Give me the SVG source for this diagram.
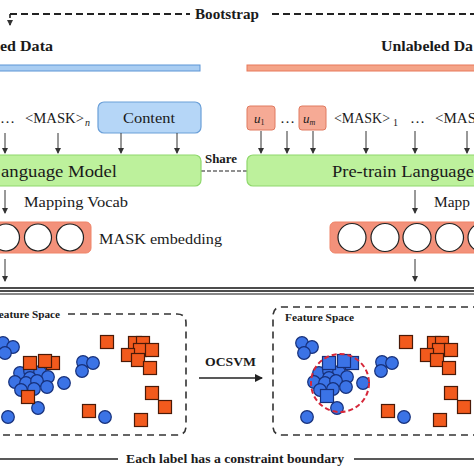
<svg xmlns="http://www.w3.org/2000/svg" xmlns:xlink="http://www.w3.org/1999/xlink" width="474" height="474" viewBox="0 0 474 474">
<style>
text{font-family:"Liberation Serif","DejaVu Serif",serif;fill:#1a1a1a}
.b{font-weight:bold}
.tok{font-size:15px}
.arr{stroke:#333;stroke-width:1;fill:none;marker-end:url(#ah)}
.green{fill:#bdf19c;stroke:#8fd86c;stroke-width:1.2}
.emb{fill:#f3917a;stroke:#ef8468;stroke-width:1}
.cir{fill:#fff;stroke:#222;stroke-width:1.2}
.bd{fill:#3b73e6;stroke:#16307a;stroke-width:1.2}
.os{fill:#f25a1d;stroke:#4a1a08;stroke-width:1.2}
.fb{fill:none;stroke:#333;stroke-width:1.6;stroke-dasharray:7 5}
.utok{fill:#f6aa95;stroke:#e07a60;stroke-width:1}
</style>
<defs>
<marker id="ah" viewBox="0 0 6 6" refX="5" refY="3" markerWidth="6" markerHeight="6" markerUnits="userSpaceOnUse" orient="auto"><path d="M0,0 L6,3 L0,6 z" fill="#333"/></marker>
<marker id="ah2" viewBox="0 0 8 8" refX="7" refY="4" markerWidth="8" markerHeight="8" markerUnits="userSpaceOnUse" orient="auto"><path d="M0,0 L8,4 L0,8 z" fill="#222"/></marker>
<g id="common">
<circle class="bd" cx="3" cy="343" r="6.3"/><circle class="bd" cx="13" cy="347" r="6.3"/><circle class="bd" cx="5" cy="353" r="6.3"/>
<circle class="bd" cx="83" cy="362" r="6.3"/><circle class="bd" cx="93" cy="363" r="6.3"/><circle class="bd" cx="82" cy="371" r="6.3"/>
<circle class="bd" cx="20" cy="373" r="6.3"/><circle class="bd" cx="30" cy="371" r="6.3"/><circle class="bd" cx="40" cy="372" r="6.3"/><circle class="bd" cx="48" cy="377" r="6.3"/>
<circle class="bd" cx="15" cy="382" r="6.3"/><circle class="bd" cx="30" cy="378" r="6.3"/><circle class="bd" cx="26" cy="383" r="6.3"/><circle class="bd" cx="37" cy="381" r="6.3"/>
<circle class="bd" cx="47" cy="387" r="6.3"/><circle class="bd" cx="21" cy="390" r="6.3"/><circle class="bd" cx="34" cy="389" r="6.3"/>
<circle class="bd" cx="64" cy="383" r="6.3"/><circle class="bd" cx="38" cy="408" r="6.3"/><circle class="bd" cx="8" cy="417" r="6.3"/><circle class="bd" cx="105" cy="417" r="6.3"/>
<rect class="os" x="100.5" y="335.5" width="13" height="13"/>
<rect class="os" x="128.5" y="336.5" width="13" height="13"/><rect class="os" x="136.5" y="336.5" width="13" height="13"/>
<rect class="os" x="133.5" y="343.5" width="13" height="13"/><rect class="os" x="145.5" y="343.5" width="13" height="13"/>
<rect class="os" x="121.5" y="348.5" width="13" height="13"/><rect class="os" x="131.5" y="353.5" width="13" height="13"/>
<rect class="os" x="143.5" y="361.5" width="13" height="13"/><rect class="os" x="145.5" y="386.5" width="13" height="13"/>
<rect class="os" x="158.5" y="400.5" width="13" height="13"/><rect class="os" x="134.5" y="413.5" width="13" height="13"/>
<rect class="os" x="82.5" y="404.5" width="13" height="13"/>
</g>
</defs>

<g id="bootstrap">
<path d="M10,14 H190 M272,14 H480" stroke="#222" stroke-width="2" stroke-dasharray="7 4" fill="none"/>
<path d="M10,14 V25" stroke="#222" stroke-width="1.6" stroke-dasharray="4 3" fill="none" marker-end="url(#ah)"/>
<text class="b" x="195" y="19" font-size="14" textLength="64" lengthAdjust="spacingAndGlyphs">Bootstrap</text>
</g>

<g id="labeled-data">
<text class="b" x="0" y="51" font-size="15" textLength="53" lengthAdjust="spacingAndGlyphs">ed Data</text>
<rect x="-5" y="65" width="205" height="6" fill="#a9cdf2" stroke="#5d95d5" stroke-width="1"/>
</g>
<g id="unlabeled-data">
<text class="b" x="381" y="51" font-size="15" textLength="92" lengthAdjust="spacingAndGlyphs">Unlabeled Da</text>
<rect x="247" y="65" width="240" height="6" fill="#f4a488" stroke="#e8785a" stroke-width="1"/>
</g>

<g id="left-tokens">
<text class="tok" x="0" y="123">…</text>
<text class="tok" x="25" y="123" textLength="59" lengthAdjust="spacingAndGlyphs">&lt;MASK&gt;</text>
<text x="85" y="126" font-size="10" font-style="italic">n</text>
</g>
<g id="content">
<rect x="98" y="102" width="103" height="31" rx="6" fill="#b5d6f7" stroke="#6a9fd8" stroke-width="1.2"/>
<text x="123" y="123" font-size="15" textLength="52" lengthAdjust="spacingAndGlyphs">Content</text>
</g>

<g id="right-tokens">
<rect class="utok" x="247" y="106" width="28" height="24" rx="3"/>
<text x="254" y="123" font-size="13" font-style="italic">u<tspan font-size="8" font-style="normal" dy="2">1</tspan></text>
<text class="tok" x="280" y="123">…</text>
<rect class="utok" x="299" y="106" width="27" height="24" rx="3"/>
<text x="303" y="123" font-size="13" font-style="italic">u<tspan font-size="8" dy="2">m</tspan></text>
<text class="tok" x="334" y="123" textLength="56" lengthAdjust="spacingAndGlyphs">&lt;MASK&gt;</text>
<text x="393" y="126" font-size="10">1</text>
<text class="tok" x="410" y="123">…</text>
<text class="tok" x="435" y="123">&lt;MAS</text>
</g>

<g id="connectors">
<line class="arr" x1="5" y1="133" x2="5" y2="153"/>
<line class="arr" x1="58" y1="133" x2="58" y2="153"/>
<line class="arr" x1="121" y1="133" x2="121" y2="153"/>
<line class="arr" x1="177" y1="133" x2="177" y2="153"/>
<line class="arr" x1="261" y1="131" x2="261" y2="153"/>
<line class="arr" x1="287" y1="131" x2="287" y2="153"/>
<line class="arr" x1="313" y1="131" x2="313" y2="153"/>
<line class="arr" x1="366" y1="131" x2="366" y2="153"/>
<line class="arr" x1="415" y1="131" x2="415" y2="153"/>
<line class="arr" x1="467" y1="131" x2="467" y2="153"/>
<line class="arr" x1="5" y1="190" x2="5" y2="213"/>
<line class="arr" x1="415" y1="190" x2="415" y2="213"/>
<line class="arr" x1="5" y1="259" x2="5" y2="281"/>
<line class="arr" x1="415" y1="259" x2="415" y2="281"/>
<line x1="201" y1="171" x2="247" y2="171" stroke="#222" stroke-width="1.2" stroke-dasharray="4 2"/>
<line x1="199" y1="378" x2="262" y2="378" stroke="#222" stroke-width="1.3" marker-end="url(#ah2)"/>
</g>

<g id="left-lm">
<rect class="green" x="-10" y="155" width="211" height="31" rx="6"/>
<text x="1" y="177" font-size="17" textLength="116" lengthAdjust="spacingAndGlyphs">anguage Model</text>
</g>
<text class="b" x="205" y="163" font-size="13" textLength="32" lengthAdjust="spacingAndGlyphs">Share</text>
<g id="right-lm">
<rect class="green" x="247" y="155" width="240" height="31" rx="6"/>
<text x="332" y="177" font-size="17" textLength="142" lengthAdjust="spacingAndGlyphs">Pre-train Language</text>
</g>

<text x="24" y="207" font-size="14" textLength="104" lengthAdjust="spacingAndGlyphs">Mapping Vocab</text>
<text x="434" y="207" font-size="14" textLength="36" lengthAdjust="spacingAndGlyphs">Mapp</text>

<g id="left-emb">
<rect class="emb" x="-10" y="222" width="101" height="31" rx="5"/>
<circle class="cir" cx="6" cy="237.5" r="13.5"/>
<circle class="cir" cx="38" cy="237.5" r="13.5"/>
<circle class="cir" cx="70" cy="237.5" r="13.5"/>
</g>
<text x="99" y="244" font-size="15" textLength="123" lengthAdjust="spacingAndGlyphs">MASK embedding</text>
<g id="right-emb">
<rect class="emb" x="330" y="222" width="160" height="31" rx="5"/>
<circle class="cir" cx="352" cy="237.5" r="14"/>
<circle class="cir" cx="385" cy="237.5" r="14"/>
<circle class="cir" cx="417" cy="237.5" r="14"/>
<circle class="cir" cx="449.5" cy="237.5" r="14"/>
<circle class="cir" cx="482" cy="237.5" r="14"/>
</g>

<g id="separator" stroke="#111">
<line x1="0" y1="288" x2="474" y2="288" stroke-width="1.3"/>
<line x1="0" y1="291" x2="474" y2="291" stroke-width="1.3"/>
<line x1="0" y1="294" x2="474" y2="294" stroke-width="1"/>
</g>

<g id="left-feature">
<path class="fb" d="M68,314 H177 Q186,314 186,323 V426 Q186,435 177,435 H-5"/>
<text class="b" x="-8" y="318" font-size="11" textLength="68" lengthAdjust="spacingAndGlyphs">Feature Space</text>
<use xlink:href="#common"/>
<rect class="os" x="23.5" y="356.5" width="13" height="13"/>
<rect class="os" x="46.5" y="356.5" width="13" height="13"/>
<rect class="os" x="38.5" y="354.5" width="13" height="13"/>
<rect class="os" x="21.5" y="390.5" width="13" height="13"/>
</g>

<text class="b" x="205" y="366" font-size="13" textLength="51" lengthAdjust="spacingAndGlyphs">OCSVM</text>

<g id="right-feature">
<path class="fb" d="M480,307 H282 Q273,307 273,316 V426 Q273,435 282,435 H480"/>
<text class="b" x="285" y="321" font-size="11" textLength="69" lengthAdjust="spacingAndGlyphs">Feature Space</text>
<use xlink:href="#common" transform="translate(299,0)"/>
<rect class="bd" x="322.5" y="356.5" width="13" height="13"/>
<rect class="bd" x="345.5" y="356.5" width="13" height="13"/>
<rect class="bd" x="337.5" y="354.5" width="13" height="13"/>
<rect class="bd" x="320.5" y="389.5" width="13" height="13"/>
<circle cx="340" cy="383" r="29" fill="none" stroke="#d6283a" stroke-width="2" stroke-dasharray="5 3"/>
</g>

<g id="caption">
<line x1="0" y1="459" x2="118" y2="459" stroke="#222" stroke-width="1.3"/>
<line x1="354" y1="459" x2="474" y2="459" stroke="#222" stroke-width="1.3"/>
<text class="b" x="126" y="463" font-size="13.5" textLength="218" lengthAdjust="spacingAndGlyphs">Each label has a constraint boundary</text>
</g>
</svg>
